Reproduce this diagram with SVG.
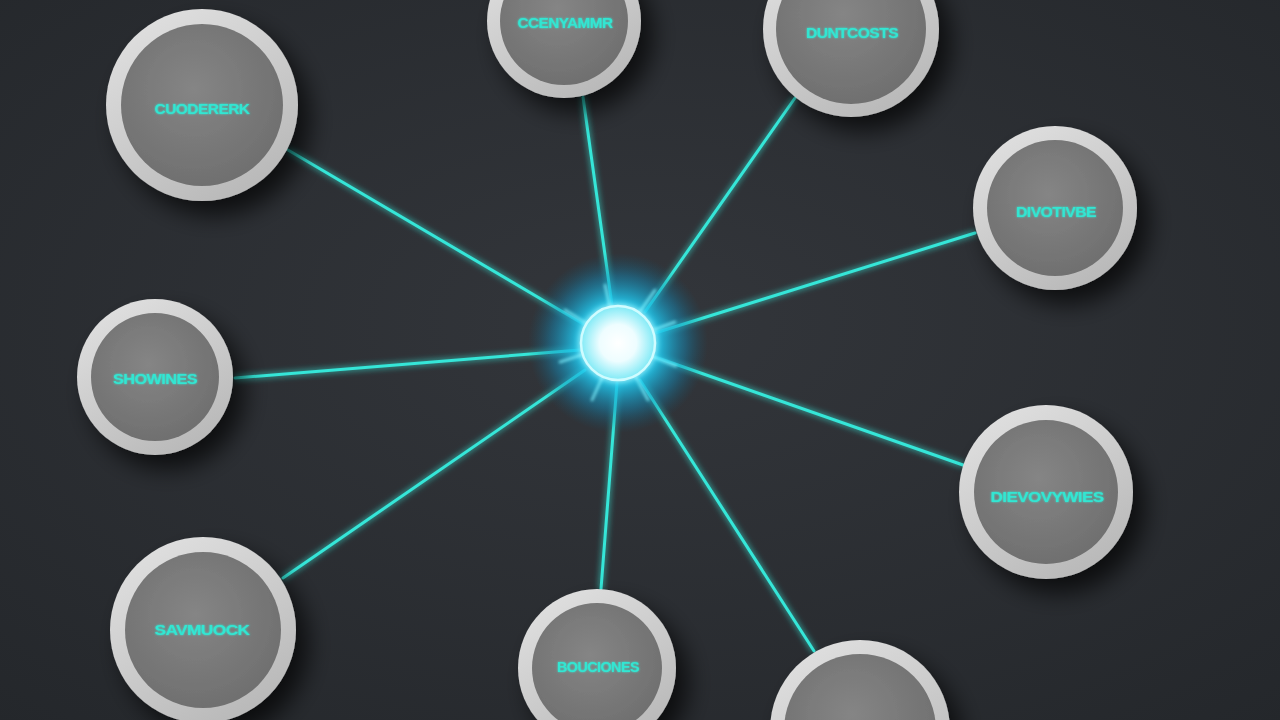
<svg xmlns="http://www.w3.org/2000/svg" width="1280" height="720" viewBox="0 0 1280 720">
<defs>
<radialGradient id="bg" cx="50%" cy="45%" r="75%">
<stop offset="0" stop-color="#33363b"/>
<stop offset="1" stop-color="#24272b"/>
</radialGradient>
<linearGradient id="ring" x1="0" y1="0" x2="0.6" y2="1">
<stop offset="0" stop-color="#e4e4e4"/>
<stop offset="1" stop-color="#bababa"/>
</linearGradient>
<radialGradient id="face" cx="45%" cy="40%" r="65%">
<stop offset="0" stop-color="#858585"/>
<stop offset="1" stop-color="#6e6e6e"/>
</radialGradient>
<radialGradient id="hubglow" cx="50%" cy="50%" r="50%">
<stop offset="0" stop-color="#c0fdff" stop-opacity="1"/>
<stop offset="0.45" stop-color="#22cdf2" stop-opacity="0.9"/>
<stop offset="0.75" stop-color="#1190c0" stop-opacity="0.45"/>
<stop offset="1" stop-color="#0a5f80" stop-opacity="0"/>
</radialGradient>
<radialGradient id="hubcore" cx="50%" cy="50%" r="50%">
<stop offset="0" stop-color="#ffffff"/>
<stop offset="0.5" stop-color="#eefdff"/>
<stop offset="1" stop-color="#80eaf6"/>
</radialGradient>
<filter id="shadow" x="-40%" y="-40%" width="190%" height="190%">
<feGaussianBlur in="SourceAlpha" stdDeviation="12"/>
<feOffset dx="12" dy="14" result="b"/>
<feComponentTransfer><feFuncA type="linear" slope="0.7"/></feComponentTransfer>
<feMerge><feMergeNode/><feMergeNode in="SourceGraphic"/></feMerge>
</filter>
<filter id="glow" x="-20%" y="-20%" width="140%" height="140%">
<feGaussianBlur stdDeviation="3" result="g"/>
<feMerge><feMergeNode in="g"/><feMergeNode in="SourceGraphic"/></feMerge>
</filter>
<filter id="blur" x="-50%" y="-50%" width="200%" height="200%">
<feGaussianBlur stdDeviation="1.5"/>
</filter>
<filter id="softglow" x="-20%" y="-20%" width="140%" height="140%">
<feGaussianBlur stdDeviation="1.2" result="g"/>
<feMerge><feMergeNode in="g"/><feMergeNode in="SourceGraphic"/></feMerge>
</filter>
</defs>
<style>
.ring{fill:url(#ring)}
.face{fill:url(#face)}
.lbl{font-family:"Liberation Sans",Arial,sans-serif;font-size:14px;font-weight:bold;fill:#33e6d2;text-anchor:middle;letter-spacing:-0.5px}
.edge{stroke:#35e6d8;stroke-width:3;stroke-linecap:round;fill:none}
.ray{stroke:#7ff2ff;stroke-width:2.5;stroke-linecap:round}
</style>
<rect width="1280" height="720" fill="url(#bg)"/>

<g id="connectors" filter="url(#glow)">
<line class="edge" x1="585" y1="325" x2="288" y2="150"/>
<line class="edge" x1="612" y1="305" x2="583" y2="97"/>
<line class="edge" x1="645" y1="312" x2="795" y2="98"/>
<line class="edge" x1="655" y1="333" x2="975" y2="233"/>
<line class="edge" x1="580" y1="350" x2="235" y2="378"/>
<line class="edge" x1="655" y1="357" x2="963" y2="465"/>
<line class="edge" x1="585" y1="370" x2="283" y2="578"/>
<line class="edge" x1="617" y1="383" x2="601" y2="589"/>
<line class="edge" x1="640" y1="380" x2="814" y2="651"/>
</g>

<g id="hub">
<circle cx="618" cy="343" r="90" fill="url(#hubglow)"/>
<g filter="url(#blur)" opacity="0.8">
<line class="ray" x1="618" y1="343" x2="605" y2="285"/>
<line class="ray" x1="618" y1="343" x2="655" y2="290"/>
<line class="ray" x1="618" y1="343" x2="675" y2="322"/>
<line class="ray" x1="618" y1="343" x2="676" y2="366"/>
<line class="ray" x1="618" y1="343" x2="648" y2="400"/>
<line class="ray" x1="618" y1="343" x2="592" y2="400"/>
<line class="ray" x1="618" y1="343" x2="560" y2="362"/>
<line class="ray" x1="618" y1="343" x2="565" y2="310"/>
</g>
<circle cx="618" cy="343" r="37" fill="url(#hubcore)" stroke="#d0fcff" stroke-width="2.5" filter="url(#glow)"/>
</g>

<g id="node1" filter="url(#shadow)">
<circle class="ring" cx="202" cy="105" r="96"/>
<circle class="face" cx="202" cy="105" r="81"/>
<text class="lbl" x="202" y="114" textLength="95" lengthAdjust="spacingAndGlyphs" filter="url(#softglow)">CUODERERK</text>
</g>
<g id="node2" filter="url(#shadow)">
<circle class="ring" cx="564" cy="21" r="77"/>
<circle class="face" cx="564" cy="21" r="64"/>
<text class="lbl" x="565" y="28" textLength="95" lengthAdjust="spacingAndGlyphs" filter="url(#softglow)">CCENYAMMR</text>
</g>
<g id="node3" filter="url(#shadow)">
<circle class="ring" cx="851" cy="29" r="88"/>
<circle class="face" cx="851" cy="29" r="75"/>
<text class="lbl" x="852" y="38" textLength="92" lengthAdjust="spacingAndGlyphs" filter="url(#softglow)">DUNTCOSTS</text>
</g>
<g id="node4" filter="url(#shadow)">
<circle class="ring" cx="1055" cy="208" r="82"/>
<circle class="face" cx="1055" cy="208" r="68"/>
<text class="lbl" x="1056" y="217" textLength="80" lengthAdjust="spacingAndGlyphs" filter="url(#softglow)">DIVOTIVBE</text>
</g>
<g id="node5" filter="url(#shadow)">
<circle class="ring" cx="155" cy="377" r="78"/>
<circle class="face" cx="155" cy="377" r="64"/>
<text class="lbl" x="155" y="384" textLength="84" lengthAdjust="spacingAndGlyphs" filter="url(#softglow)">SHOWINES</text>
</g>
<g id="node6" filter="url(#shadow)">
<circle class="ring" cx="1046" cy="492" r="87"/>
<circle class="face" cx="1046" cy="492" r="72"/>
<text class="lbl" x="1047" y="502" textLength="113" lengthAdjust="spacingAndGlyphs" filter="url(#softglow)">DIEVOVYWIES</text>
</g>
<g id="node7" filter="url(#shadow)">
<circle class="ring" cx="203" cy="630" r="93"/>
<circle class="face" cx="203" cy="630" r="78"/>
<text class="lbl" x="202" y="635" textLength="95" lengthAdjust="spacingAndGlyphs" filter="url(#softglow)">SAVMUOCK</text>
</g>
<g id="node8" filter="url(#shadow)">
<circle class="ring" cx="597" cy="668" r="79"/>
<circle class="face" cx="597" cy="668" r="65"/>
<text class="lbl" x="598" y="672" textLength="82" lengthAdjust="spacingAndGlyphs" filter="url(#softglow)">BOUCIONES</text>
</g>
<g id="node9" filter="url(#shadow)">
<circle class="ring" cx="860" cy="730" r="90"/>
<circle class="face" cx="860" cy="730" r="76"/>
</g>
</svg>
